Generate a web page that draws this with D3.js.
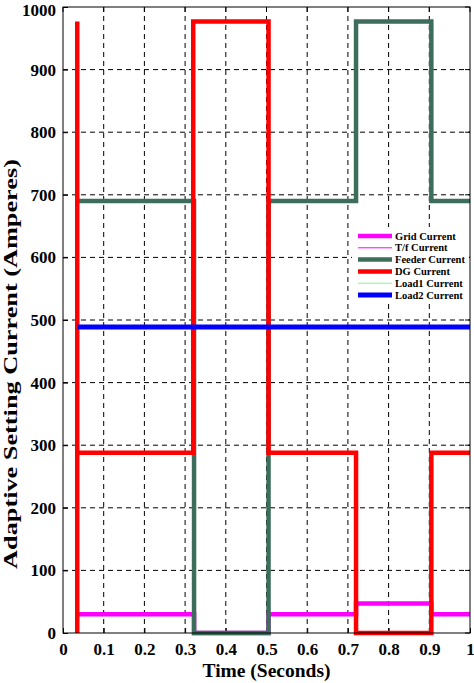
<!DOCTYPE html>
<html>
<head>
<meta charset="utf-8">
<script src="https://cdn.jsdelivr.net/npm/d3@7"></script>
<style>
  body { margin: 0; background: #fff; }
  text { font-family: "Liberation Serif", "Times New Roman", serif; font-weight: bold; }
</style>
</head>
<body>
<div id="chart"></div>
<script>
// step series, [time, amperes]
const gridCurrent = [[0.037, 30], [0.322, 30], [0.322, 0], [0.505, 0], [0.505, 30], [0.72, 30], [0.72, 47], [0.905, 47], [0.905, 30], [1, 30]];
const tfCurrent = gridCurrent;
const feederCurrent = [[0.035, 690], [0.322, 690], [0.322, 0], [0.505, 0], [0.505, 690], [0.72, 690], [0.72, 977], [0.905, 977], [0.905, 690], [1, 690]];
const dgCurrent = [[0.035, 0], [0.035, 977], [0.035, 288], [0.32, 288], [0.32, 977], [0.505, 977], [0.505, 288], [0.72, 288], [0.72, 0], [0.905, 0], [0.905, 288], [1, 288]];
const load1Current = [[0.035, 489], [1, 489]];
const load2Current = [[0.035, 489], [1, 489]];

const xTicks = [0, 0.1, 0.2, 0.3, 0.4, 0.5, 0.6, 0.7, 0.8, 0.9, 1];
const yTicks = [0, 100, 200, 300, 400, 500, 600, 700, 800, 900, 1000];

const seriesNames = ['Grid Current', 'T/f Current', 'Feeder Current', 'DG Current', 'Load1 Current', 'Load2 Current'];
const seriesData = [gridCurrent, tfCurrent, feederCurrent, dgCurrent, load1Current, load2Current];
const seriesColors = ['#ff00ff', '#ff00ff', '#3d6e5c', '#ff0000', '#90ee90', '#0000ff'];
const seriesWidths = [4.5, 1, 4.5, 4.5, 1, 5];

const w = 474, h = 683;
const m = { left: 63, top: 7, right: 4, bottom: 50 };
const pw = w - m.left - m.right, ph = h - m.top - m.bottom;

const svg = d3.select('#chart').append('svg')
    .attr('width', w)
    .attr('height', h);

const x = d3.scaleLinear().domain([0, 1]).range([m.left, m.left + pw]);
const y = d3.scaleLinear().domain([0, 1000]).range([m.top + ph, m.top]);

// dashed grid
svg.append('g').selectAll('line')
    .data(xTicks.slice(1, -1))
    .enter().append('line')
    .attr('x1', d => x(d)).attr('x2', d => x(d))
    .attr('y1', m.top).attr('y2', m.top + ph)
    .attr('stroke', '#000').attr('stroke-width', 1).attr('stroke-dasharray', '5,4');
svg.append('g').selectAll('line')
    .data(yTicks.slice(1, -1))
    .enter().append('line')
    .attr('x1', m.left).attr('x2', m.left + pw)
    .attr('y1', d => y(d)).attr('y2', d => y(d))
    .attr('stroke', '#000').attr('stroke-width', 1).attr('stroke-dasharray', '5,4');

// axes with inward ticks
const xAxis = svg.append('g')
    .attr('transform', `translate(0,${m.top + ph})`)
    .call(d3.axisBottom(x).tickValues(xTicks).tickFormat(d3.format('')).tickSizeInner(-5).tickSizeOuter(0).tickPadding(10));
const yAxis = svg.append('g')
    .attr('transform', `translate(${m.left},0)`)
    .call(d3.axisLeft(y).tickValues(yTicks).tickFormat(d3.format('d')).tickSizeInner(-5).tickSizeOuter(0).tickPadding(7));
[xAxis, yAxis].forEach(a => {
    a.select('.domain').remove();
    a.selectAll('text').attr('font-size', 17).attr('font-family', '"Liberation Serif", serif').attr('font-weight', 'bold').attr('fill', '#000');
});
// keep the top label inside the page
yAxis.selectAll('text').filter(d => d === 1000).attr('dy', '0.5em');

// top and right ticks
svg.append('g').selectAll('line').data(xTicks).enter().append('line')
    .attr('x1', d => x(d)).attr('x2', d => x(d)).attr('y1', m.top).attr('y2', m.top + 5).attr('stroke', '#000');
svg.append('g').selectAll('line').data(yTicks).enter().append('line')
    .attr('x1', m.left + pw).attr('x2', m.left + pw - 5).attr('y1', d => y(d)).attr('y2', d => y(d)).attr('stroke', '#000');

// lines
const line = d3.line().x(d => x(d[0])).y(d => y(d[1]));
svg.append('g').selectAll('path')
    .data(seriesData)
    .enter().append('path')
    .attr('d', line)
    .attr('fill', 'none')
    .attr('stroke', (d, i) => seriesColors[i])
    .attr('stroke-width', (d, i) => seriesWidths[i])
    .attr('stroke-linejoin', 'miter');

// plot box
svg.append('rect')
    .attr('x', m.left).attr('y', m.top).attr('width', pw).attr('height', ph)
    .attr('fill', 'none').attr('stroke', '#000').attr('stroke-width', 1);

// legend
const lg = svg.append('g').attr('transform', 'translate(352,227)');
lg.append('rect').attr('width', 117).attr('height', 75).attr('fill', '#fff');
seriesNames.forEach((name, i) => {
    const ly = 9 + i * 11.8;
    lg.append('line').attr('x1', 6).attr('x2', 40).attr('y1', ly).attr('y2', ly)
        .attr('stroke', seriesColors[i]).attr('stroke-width', seriesWidths[i]);
    lg.append('text').attr('x', 43).attr('y', ly + 3.5).attr('font-size', 10.5).text(name);
});

// titles
svg.append('text')
    .attr('x', m.left + pw / 2).attr('y', 677)
    .attr('text-anchor', 'middle').attr('font-size', 19.5)
    .text('Time (Seconds)');
svg.append('text')
    .attr('transform', 'translate(17,364) rotate(-90) scale(1.46,1)')
    .attr('text-anchor', 'middle').attr('font-size', 18)
    .text('Adaptive Setting Current (Amperes)');
</script>
</body>
</html>
